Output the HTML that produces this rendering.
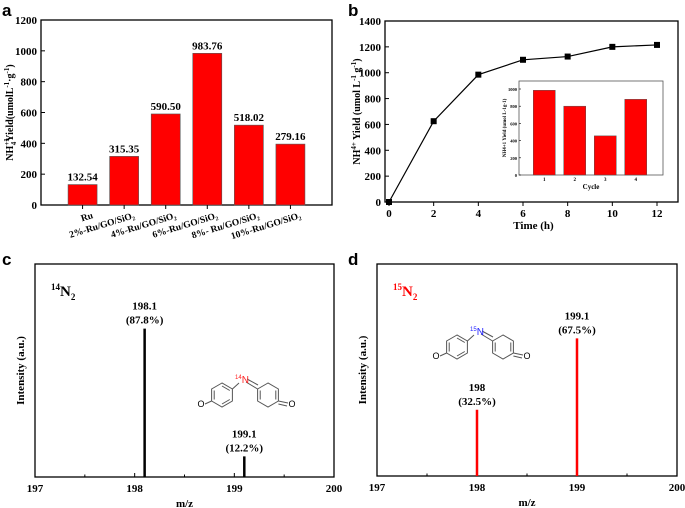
<!DOCTYPE html>
<html><head><meta charset="utf-8"><style>
html,body{margin:0;padding:0;background:#fff}
svg{display:block}
text{font-family:"Liberation Serif",serif;font-weight:bold;fill:#000}
.pl{font-family:"Liberation Sans",sans-serif;font-weight:bold;font-size:17px}
.tk{font-size:11px}
</style></head><body>
<svg id="fig" width="685" height="508" viewBox="0 0 685 508" xmlns="http://www.w3.org/2000/svg">
<text class="pl" x="2" y="16">a</text>
<text class="pl" x="348" y="16">b</text>
<text class="pl" x="2" y="265">c</text>
<text class="pl" x="348" y="265">d</text>
<g id="ga"></g>
<g id="gb"></g>
<g id="gc"></g>
<g id="gd"></g>
</svg>
<script>
const catsA = ["Ru","2%-Ru/GO/SiO\u2082","4%-Ru/GO/SiO\u2082","6%-Ru/GO/SiO\u2082","8%- Ru/GO/SiO\u2082","10%-Ru/GO/SiO\u2082"];
const valsA = [132.54, 315.35, 590.50, 983.76, 518.02, 395];
const labelsA = ["132.54","315.35","590.50","983.76","518.02","279.16"];
const ticksA = [0,200,400,600,800,1000,1200];
const timeB = [0,2,4,6,8,10,12];
const yieldB = [0,625,985,1100,1125,1200,1215];
const ticksBx = [0,2,4,6,8,10,12];
const ticksBy = [0,200,400,600,800,1000,1200,1400];
const cyclesIn = [1,2,3,4];
const valsIn = [985,800,455,880];
const ticksIn = [0,200,400,600,800,1000];
const mzC = [198.1,199.1];
const intC = [87.8,12.2];
const labC = [["198.1","(87.8%)"],["199.1","(12.2%)"]];
const mzD = [198,199];
const intD = [32.5,67.5];
const labD = [["198","(32.5%)"],["199.1","(67.5%)"]];
const ticksMz = [197,198,199,200];

const NS="http://www.w3.org/2000/svg";
function mk(p,tag,at,txt){const e=document.createElementNS(NS,tag);for(const k in at)e.setAttribute(k,at[k]);if(txt!==undefined)e.textContent=txt;p.appendChild(e);return e;}
function lin(d0,d1,r0,r1){return v=>r0+(v-d0)*(r1-r0)/(d1-d0);}

// Panel A
(function(){
const g=document.getElementById('ga');
const x0=41,x1=332,yT=20,yB=205;
const y=lin(0,1200,yB,yT);
const fr=mk(g,'rect',{x:x0,y:yT,width:x1-x0,height:yB-yT,fill:'none',stroke:'#000','stroke-width':1.3});

ticksA.forEach(t=>{mk(g,'line',{x1:x0,x2:x0+4,y1:y(t),y2:y(t),stroke:'#000'});
 const tx=mk(g,'text',{x:x0-4,y:y(t)+4,'text-anchor':'end',class:'tk'},t);
 });
const step=(x1-x0)/7;
catsA.forEach((c,i)=>{const cx=x0+step*(i+1);const w=29;
 const r=mk(g,'rect',{x:cx-w/2,y:y(valsA[i]),width:w,height:yB-y(valsA[i]),fill:'#f00',stroke:'#555','stroke-width':0.6});
 
 const l=mk(g,'text',{x:cx,y:y(valsA[i])-4,'text-anchor':'middle','font-size':'11'},labelsA[i]);
 
 mk(g,'line',{x1:cx,x2:cx,y1:yB,y2:yB+4,stroke:'#000'});
 const xl=mk(g,'text',{x:cx+11,y:yB+13,'text-anchor':'end','font-size':'9.5',transform:`rotate(-17 ${cx+11} ${yB+13})`},c);
 
});
const yt=mk(g,'text',{x:0,y:0,'text-anchor':'middle','font-size':'10',transform:`translate(13 ${(yT+yB)/2}) rotate(-90)`});
yt.innerHTML='NH<tspan font-size="7" dy="-4">+1</tspan><tspan font-size="7" dy="7" dx="-7">4</tspan><tspan dy="-3">Yield(umolL</tspan><tspan font-size="7" dy="-4">-1</tspan><tspan dy="4">·g</tspan><tspan font-size="7" dy="-4">-1</tspan><tspan dy="4">)</tspan>';

})();

// Panel B
(function(){
const g=document.getElementById('gb');
const x0=389,x1=678,yT=21,yB=202;
const x=lin(0,12,389,657),y=lin(0,1400,yB,yT);
const fr=mk(g,'rect',{x:x0-4,y:yT,width:x1-x0+4,height:yB-yT,fill:'none',stroke:'#000','stroke-width':1.3});

ticksBy.forEach(t=>{mk(g,'line',{x1:x0-4,x2:x0,y1:y(t),y2:y(t),stroke:'#000'});
 const tx=mk(g,'text',{x:x0-8,y:y(t)+4,'text-anchor':'end',class:'tk'},t);
 });
ticksBx.forEach(t=>{mk(g,'line',{x1:x(t),x2:x(t),y1:yB,y2:yB+4,stroke:'#000'});
 const tx=mk(g,'text',{x:x(t),y:yB+15,'text-anchor':'middle',class:'tk'},t);
 });
const pl=mk(g,'polyline',{points:timeB.map((t,i)=>x(t)+','+y(yieldB[i])).join(' '),fill:'none',stroke:'#000','stroke-width':1.2});

timeB.forEach((t,i)=>{const p=mk(g,'rect',{x:x(t)-3,y:y(yieldB[i])-3,width:6,height:6,fill:'#000'});
 });
const xt=mk(g,'text',{x:(x0+x1)/2,y:229,'text-anchor':'middle','font-size':'11'},'Time (h)');

const yt=mk(g,'text',{x:0,y:0,'text-anchor':'middle','font-size':'10',transform:`translate(360 ${(yT+yB)/2}) rotate(-90)`});
yt.innerHTML='NH<tspan font-size="7" dy="-4">4+</tspan><tspan dy="4"> Yield (umol L</tspan><tspan font-size="7" dy="-4">-1</tspan><tspan dy="4"> g</tspan><tspan font-size="7" dy="-4">-1</tspan><tspan dy="4">)</tspan>';

const ix0=519,ix1=663,iyT=81,iyB=175;
const iy=lin(0,1000,iyB,89),ix=lin(0.5,4.5,ix0+10,ix1-12);
const ib=mk(g,'rect',{x:ix0,y:iyT,width:ix1-ix0,height:iyB-iyT,fill:'#fff',stroke:'#555','stroke-width':0.8});

ticksIn.forEach(t=>{mk(g,'line',{x1:ix0,x2:ix0+2,y1:iy(t),y2:iy(t),stroke:'#000','stroke-width':0.6});
 mk(g,'text',{x:ix0-2,y:iy(t)+2,'text-anchor':'end','font-size':'4.5'},t);});
cyclesIn.forEach((c,i)=>{const r=mk(g,'rect',{x:ix(c)-11,y:iy(valsIn[i]),width:22,height:iyB-iy(valsIn[i]),fill:'#f00',stroke:'#555','stroke-width':0.5});
 
 mk(g,'text',{x:ix(c),y:iyB+6,'text-anchor':'middle','font-size':'5'},c);});
mk(g,'text',{x:(ix0+ix1)/2,y:iyB+14,'text-anchor':'middle','font-size':'7'},'Cycle');
mk(g,'text',{x:0,y:0,'text-anchor':'middle','font-size':'5',transform:`translate(506 ${(iyT+iyB)/2}) rotate(-90)`},'NH4+1 Yield (umol L-1g-1)');
})();

function molecule(g,cx,cy,isoColor,iso){
 const m=mk(g,'g',{transform:`translate(${cx} ${cy})`,stroke:'#555','stroke-width':1,fill:'none'});
 
 function pt(ox,r,k){const a=Math.PI/180*(90+60*k);return [ox+r*Math.cos(a),-r*Math.sin(a)];}
 function hex(ox,inner){const pts=[];for(let k=0;k<6;k++){pts.push(pt(ox,12,k).join(','));}mk(m,'polygon',{points:pts.join(' ')});
  inner.forEach(k=>{const a=pt(ox,9,k),b=pt(ox,9,k+1);mk(m,'line',{x1:a[0],y1:a[1],x2:b[0],y2:b[1]});});}
 hex(0,[1,3,5]);hex(46,[1,4]);
 mk(m,'line',{x1:10.4,y1:-6,x2:17,y2:-12});
 mk(m,'line',{x1:24,y1:-13,x2:35.6,y2:-6});
 mk(m,'line',{x1:25,y1:-16,x2:36,y2:-10});
 mk(m,'line',{x1:-10.4,y1:6,x2:-17,y2:9});
 mk(m,'line',{x1:56.4,y1:6,x2:66,y2:8});
 mk(m,'line',{x1:56.4,y1:9,x2:65,y2:11});
 const t=mk(m,'text',{x:20,y:-12,'text-anchor':'middle','font-size':'10',stroke:'none',style:`fill:${isoColor};font-family:'Liberation Sans',sans-serif;font-weight:normal`});
 t.innerHTML=`<tspan font-size="6" dy="-4">${iso}</tspan><tspan dy="4">N</tspan>`;
 mk(m,'text',{x:-21,y:12,'font-size':'9','text-anchor':'middle',stroke:'none',style:"font-family:'Liberation Sans',sans-serif;font-weight:normal"},'O');
 mk(m,'text',{x:70,y:12,'font-size':'9','text-anchor':'middle',stroke:'none',style:"font-family:'Liberation Sans',sans-serif;font-weight:normal"},'O');
}

function spectrum(gid,X0,X1,YT,YB,mz,inten,labs,ymax,col,iso,isoCol,mol){
 const g=document.getElementById(gid);
 const x=lin(197,200,X0,X1),y=lin(0,ymax,YB,YT);
 const fr=mk(g,'rect',{x:X0,y:YT,width:X1-X0,height:YB-YT,fill:'none',stroke:'#000','stroke-width':1.3});
 
 for(let v=197;v<=200.01;v+=0.5){mk(g,'line',{x1:x(v),x2:x(v),y1:YB,y2:YB-(v%1===0?4:2.5),stroke:'#000'});}
 ticksMz.forEach(t=>{const tx=mk(g,'text',{x:x(t),y:YB+15,'text-anchor':'middle',class:'tk'},t);
  });
 mz.forEach((m,i)=>{const l=mk(g,'line',{x1:x(m),x2:x(m),y1:YB,y2:y(inten[i]),stroke:col,'stroke-width':2.5});
  
  const t1=mk(g,'text',{x:x(m),y:y(inten[i])-19,'text-anchor':'middle','font-size':'11'},labs[i][0]);
  
  const t2=mk(g,'text',{x:x(m),y:y(inten[i])-5,'text-anchor':'middle','font-size':'11'},labs[i][1]);
  });
 const xt=mk(g,'text',{x:(X0+X1)/2,y:YB+30,'text-anchor':'middle','font-size':'11'},'m/z');
 
 const yt=mk(g,'text',{x:0,y:0,'text-anchor':'middle','font-size':'11',transform:`translate(${X0-11} ${(YT+YB)/2}) rotate(-90)`},'Intensity (a.u.)');
 
 const it=mk(g,'text',{x:X0+16,y:YT+32,'font-size':'15',style:`fill:${isoCol}`});
 it.innerHTML=`<tspan font-size="9" dy="-6">${iso}</tspan><tspan dy="6">N</tspan><tspan font-size="9" dy="4">2</tspan>`;
 
 molecule(g,mol[0],mol[1],mol[2],iso);
}
spectrum('gc',35,334,264,477,mzC,intC,labC,126,'#000','14','#000',[222,395,'#f22']);
spectrum('gd',377,677,264,476,mzD,intD,labD,104,'#f00','15','#f00',[457,347,'#22f']);
</script>
</body></html>
